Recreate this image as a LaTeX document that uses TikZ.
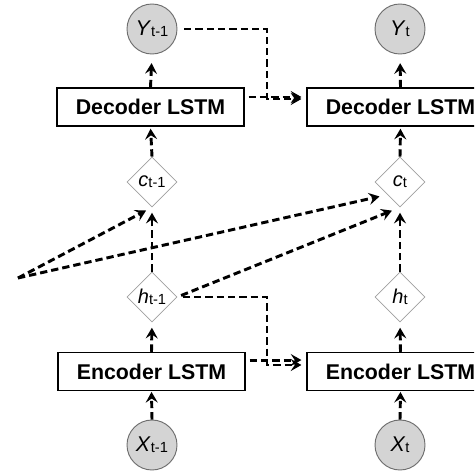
\documentclass[tikz,border=0pt]{standalone}
\usepackage{fontspec}
\setmainfont{Liberation Sans}
\usetikzlibrary{shapes.geometric}
\usetikzlibrary{arrows.meta}

\newcommand{\sublbl}[2]{\textit{#1}\raisebox{-1pt}{\fontsize{11}{11}\selectfont #2}}

\tikzset{
  lstmbox/.style={draw=black, line width=1.1pt, fill=white, inner sep=0pt,
    minimum width=140pt, minimum height=28.5pt, font=\fontsize{16}{18}\selectfont\bfseries},
  memcell/.style={circle, draw={rgb,255:red,110;green,110;blue,110}, line width=0.7pt,
    fill={rgb,255:red,212;green,212;blue,212}, inner sep=0pt, minimum size=37.5pt,
    font=\fontsize{16}{18}\selectfont},
  gate/.style={diamond, draw={rgb,255:red,160;green,160;blue,160}, line width=0.6pt,
    fill=white, inner sep=0pt, minimum size=37.5pt, font=\fontsize{15}{17}\selectfont},
  flow/.style={line width=2.2pt, dash pattern={on 5.5pt off 3pt},
    -{Stealth[length=8pt,width=9pt,inset=3pt]}}
}

\begin{document}
\begin{tikzpicture}[x=0.75pt,y=0.75pt,yscale=-1,xscale=1]
\useasboundingbox (0,0) rectangle (474,474);
\clip (0,0) rectangle (474,474);

%Shape: Circle
\node [memcell] (y1) at (152,29) {\sublbl{Y}{t-1}};
%Shape: Circle
\node [memcell] (y2) at (400,29) {\sublbl{Y}{t}};
%Shape: Rectangle
\node [lstmbox] (dec1) at (150.5,107) {Decoder LSTM};
%Shape: Rectangle
\node [lstmbox] (dec2) at (400.5,107) {Decoder LSTM};
%Shape: Diamond
\node [gate] (c1) at (152,182) {\sublbl{c}{t-1}};
%Shape: Diamond
\node [gate] (c2) at (400,182) {\sublbl{c}{t}};
%Shape: Diamond
\node [gate] (h1) at (152,297) {\sublbl{h}{t-1}};
%Shape: Diamond
\node [gate] (h2) at (400,297) {\sublbl{h}{t}};
%Shape: Rectangle
\node [lstmbox] (enc1) at (151.5,371.5) {Encoder LSTM};
%Shape: Rectangle
\node [lstmbox] (enc2) at (400.5,371.5) {Encoder LSTM};
%Shape: Circle
\node [memcell] (x1) at (152,445) {\sublbl{X}{t-1}};
%Shape: Circle
\node [memcell] (x2) at (400,445) {\sublbl{X}{t}};

\coordinate (attn) at (18,278);
\coordinate (yturn) at (267,99);
\coordinate (hturn) at (267,365);

%Straight Lines
\draw [flow, shorten >=6.5pt] (dec1.north) -- (y1.south);
\draw [flow, shorten >=6.5pt] (dec2.north) -- (y2.south);
\draw [flow, shorten >=1.5pt] (c1.north) -- (dec1.south);
\draw [flow, shorten >=1.5pt] (c2.north) -- (dec2.south);
\draw [flow, shorten >=4pt] (h1.north) -- (c1.south);
\draw [flow, shorten >=4pt] (h2.north) -- (c2.south);
\draw [flow, shorten >=4pt] (enc1.north) -- (h1.south);
\draw [flow, shorten >=4pt] (enc2.north) -- (h2.south);
\draw [flow, shorten >=0.5pt] (x1.north) -- (enc1.south);
\draw [flow, shorten >=0.5pt] (x2.north) -- (enc2.south);

%Straight Lines
\draw [flow, shorten <=5pt, shorten >=3.75pt] (y1.east) -| (yturn) -- (yturn -| dec2.west);
\draw [flow, shorten <=3pt, shorten >=3.75pt] ([yshift=-7.5pt]dec1.east) -- ([yshift=-7.5pt]dec2.west);
\draw [flow, shorten <=4pt, shorten >=3.75pt] (h1.east) -| (hturn) -- (hturn -| enc2.west);
\draw [flow, shorten <=3pt, shorten >=3.75pt] ([yshift=-8.6pt]enc1.east) -- ([yshift=-8.6pt]enc2.west);

%Straight Lines
\draw [flow, shorten >=5pt] (attn) -- (c1.south);
\draw [flow, shorten >=6pt] (attn) -- (c2.south west);
\draw [flow, shorten <=3pt, shorten >=6.5pt] (h1.east) -- (c2.south);

\end{tikzpicture}
\end{document}
